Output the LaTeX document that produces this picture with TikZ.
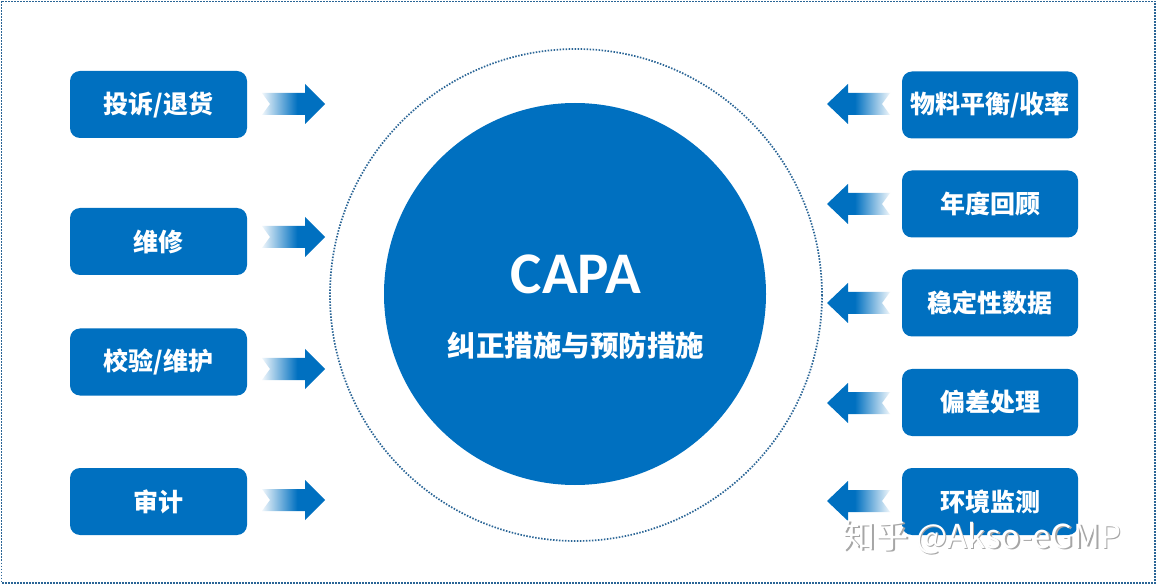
\documentclass[tikz,border=0pt]{standalone}
\usepackage{fontspec}
\newfontfamily\cjk{Noto Sans CJK SC}
\newfontfamily\latinb{Carlito}
\definecolor{capablue}{HTML}{0070C0}
\definecolor{dotblue}{HTML}{2A6596}
\pgfdeclarehorizontalshading{fadeR}{100bp}{color(0bp)=(capablue!6); color(25bp)=(capablue!6); color(53bp)=(capablue); color(100bp)=(capablue)}
\pgfdeclarehorizontalshading{fadeL}{100bp}{color(0bp)=(capablue); color(47bp)=(capablue); color(75bp)=(capablue!6); color(100bp)=(capablue!6)}
\tikzset{
  srcbox/.style={fill=capablue, rounded corners=10pt, minimum width=177pt, minimum height=67pt, inner sep=0pt,
    text=white, font=\cjk\bfseries\fontsize{25pt}{28pt}\selectfont},
  fadeinR/.style={shading=fadeR},
  fadeinL/.style={shading=fadeL},
}
\begin{document}
\begin{tikzpicture}[x=1pt,y=-1pt]
\useasboundingbox (0,0) rectangle (1157,585);
\fill[white] (0,0) rectangle (1157,585);
\draw[dotblue, line width=1.8pt, dash pattern=on 1.6pt off 1.4pt] (1.5,1.5) rectangle (1155,583);

% outer dotted circle and centre circle
\draw[dotblue, line width=1.7pt, dash pattern=on 1.5pt off 1.5pt] (576,295) circle[radius=246];
\node[circle, fill=capablue, minimum size=382pt, inner sep=0pt] (capa) at (575,294) {};
\node[text=white, font=\latinb\bfseries\fontsize{59pt}{60pt}\selectfont, inner sep=0pt] (capat) at (576,274) {CAPA};
\node[text=white, font=\cjk\bfseries\fontsize{28.5pt}{30pt}\selectfont, inner sep=0pt] (capas) at (576,346) {纠正措施与预防措施};

% left sources
\node[srcbox] (l1) at (158.5,104.5) {投诉/退货};
\node[srcbox] (l2) at (158.5,241.5) {维修};
\node[srcbox] (l3) at (158.5,362) {校验/维护};
\node[srcbox] (l4) at (158.5,501.5) {审计};

% right sources
\node[srcbox, minimum width=176pt] (r1) at (990,105) {物料平衡/收率};
\node[srcbox, minimum width=176pt] (r2) at (990,204) {年度回顾};
\node[srcbox, minimum width=176pt] (r3) at (990,303) {稳定性数据};
\node[srcbox, minimum width=176pt] (r4) at (990,402.5) {偏差处理};
\node[srcbox, minimum width=176pt] (r5) at (990,501.5) {环境监测};

% left block arrows (pointing right)
\foreach \yy in {104,237,369,500}{
  \shade[fadeinR] (262,\yy-11) -- (305,\yy-11) -- (305,\yy-20) -- (325,\yy) -- (305,\yy+20)
     -- (305,\yy+11) -- (262,\yy+11) -- (270,\yy) -- cycle;
}
% right block arrows (pointing left)
\foreach \yy in {104,204,303,403,501}{
  \shade[fadeinL] (890,\yy-11) -- (848,\yy-11) -- (848,\yy-20) -- (827,\yy) -- (848,\yy+20)
     -- (848,\yy+11) -- (890,\yy+11) -- (882,\yy) -- cycle;
}

% watermark
\node[text=gray!70, font=\cjk\fontsize{33pt}{34pt}\selectfont, inner sep=0pt] (wms) at (983.5,538.5) {知乎 @Akso-eGMP};
\node[text=white, font=\cjk\fontsize{33pt}{34pt}\selectfont, inner sep=0pt] (wm) at (982,537) {知乎 @Akso-eGMP};
\end{tikzpicture}
\end{document}
